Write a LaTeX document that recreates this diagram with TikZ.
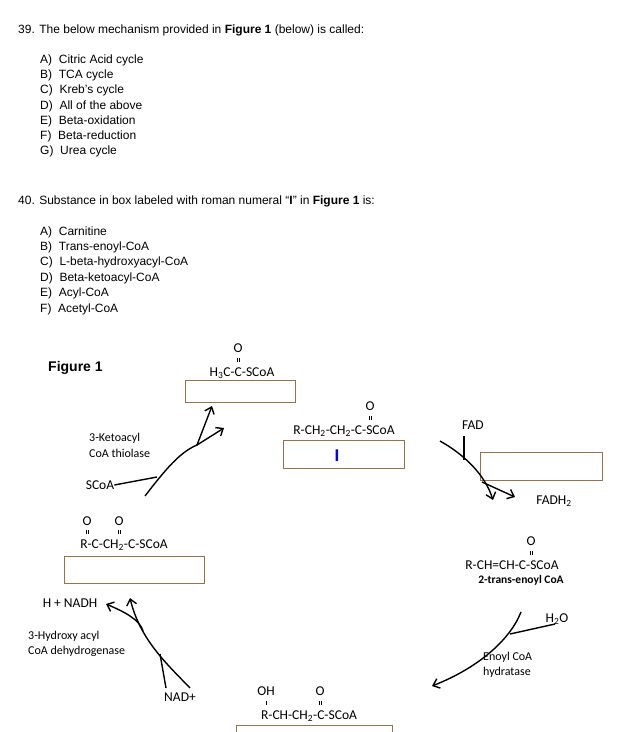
\documentclass[tikz,border=0pt]{standalone}
\usepackage{fontspec}
\setmainfont{Liberation Sans}
\newfontfamily\calfont{Carlito}
\usetikzlibrary{arrows.meta}
\definecolor{boxc}{HTML}{9A7045}
\newcommand{\dbl}{\tikz[baseline=0]{\draw[line width=0.6pt] (0,0)--(0,3.5pt) (1.6pt,0)--(1.6pt,3.5pt);}}
\newcommand{\sgl}{\tikz[baseline=0]{\draw[line width=0.6pt] (0,0)--(0,3.5pt);}}
\begin{document}
\begin{tikzpicture}[x=1pt,y=-1pt,
  q/.style={anchor=west,inner sep=0,font=\fontsize{12}{13}\selectfont},
  f/.style={inner sep=0,font=\calfont\fontsize{13.5}{14}\selectfont},
  fs/.style={anchor=west,inner sep=0,font=\calfont\fontsize{12}{13}\selectfont},
  bx/.style={draw=boxc,line width=1pt},
  arr/.style={line width=1.4pt,-{Straight Barb[length=6pt,width=10pt]}},
  ln/.style={line width=1.4pt}]
\useasboundingbox (0,0) rectangle (640,732);
\node[q] (q39) at (18,30) {39. The below mechanism provided in \textbf{Figure 1} (below) is called:};
\foreach \t [count=\i] in {A)\ \ Citric Acid cycle,B)\ \ TCA cycle,C)\ \ Kreb's cycle,D)\ \ All of the above,E)\ \ Beta-oxidation,F)\ \ Beta-reduction,G)\ \ Urea cycle}
  \node[q] (a\i) at (40,{60+15.3*(\i-1)}) {\t};
\node[q] (q40) at (18,201) {40. Substance in box labeled with roman numeral “\textbf{I}” in \textbf{Figure 1} is:};
\foreach \t [count=\i] in {A)\ \ Carnitine,B)\ \ Trans-enoyl-CoA,C)\ \ L-beta-hydroxyacyl-CoA,D)\ \ Beta-ketoacyl-CoA,E)\ \ Acyl-CoA,F)\ \ Acetyl-CoA}
  \node[q] (b\i) at (40,{232+15.4*(\i-1)}) {\t};
\node[q,font=\bfseries\fontsize{14}{15}\selectfont] (fig) at (48,368) {Figure 1};
% top molecule
\node[f] (o1) at (238,348) {O};
\node[inner sep=0] (eq1) at (238,360) {\dbl};
\node[f] (m1) at (242,373) {H\textsubscript{3}C-C-SCoA};
\draw[bx] (185,380) rectangle (295,402);
% right top molecule
\node[f] (o2) at (370,406) {O};
\node[inner sep=0] (eq2) at (370,418) {\dbl};
\node[f] (m2) at (344,431) {R-CH\textsubscript{2}-CH\textsubscript{2}-C-SCoA};
\draw[bx] (283,440) rectangle (404,468);
\node[inner sep=0,font=\bfseries\fontsize{17}{17}\selectfont\rmfamily,text=blue] (I) at (337,456) {I};
\node[f] (fad) at (473,425) {FAD};
\draw[bx] (480,452) rectangle (602,480);
\node[f] (fadh) at (554,501) {FADH\textsubscript{2}};
% enoyl
\node[f] (o3) at (531,541) {O};
\node[inner sep=0] (eq3) at (531,553) {\dbl};
\node[f] (m3) at (512,565) {R-CH=CH-C-SCoA};
\node[f,font=\calfont\bfseries\fontsize{11.5}{12}\selectfont] (en) at (521,580) {2-trans-enoyl CoA};
\node[f] (h2o) at (557,619) {H\textsubscript{2}O};
\node[fs] (eh1) at (483,657) {Enoyl CoA};
\node[fs] (eh2) at (483,672) {hydratase};
% bottom
\node[f] (oh) at (266,691) {OH};
\node[inner sep=0] (bar) at (266,703) {\sgl};
\node[f] (o4) at (320,691) {O};
\node[inner sep=0] (eq4) at (320,703) {\dbl};
\node[f] (m4) at (309,716) {R-CH-CH\textsubscript{2}-C-SCoA};
\draw[bx] (236,725) rectangle (392,745);
% left
\node[f] (nad) at (180,697) {NAD+};
\node[f] (nadh) at (70,603) {H + NADH};
\node[fs] (hd1) at (28,636) {3-Hydroxy acyl};
\node[fs] (hd2) at (28,651) {CoA dehydrogenase};
\node[f] (o5) at (87,521) {O};
\node[inner sep=0] (eq5) at (87,532) {\dbl};
\node[f] (o6) at (119,521) {O};
\node[inner sep=0] (eq6) at (119,532) {\dbl};
\node[f] (m5) at (124,545) {R-C-CH\textsubscript{2}-C-SCoA};
\draw[bx] (64,556) rectangle (204,583);
\node[fs] (k1) at (89,438) {3-Ketoacyl};
\node[fs] (k2) at (89,453) {CoA thiolase};
\node[f] (scoa) at (100,485) {SCoA};
% arrows
\coordinate (t0) at (145,496);
\coordinate (t1) at (197,445);
\draw[arr] (t0) .. controls (165,470) and (180,452) .. (t1) -- (224,428);
\draw[arr] (t1) -- (212,406);
\draw[ln] (scoa.east) -- (157,477);
\coordinate (d0) at (440,441);
\coordinate (d1) at (482,482);
\draw[arr] (d0) .. controls (465,455) and (485,475) .. (493,500);
\draw[ln] (464,436) -- (464,460);
\draw[arr] (d1) -- (515,497);
\draw[arr] (521,612) .. controls (510,640) and (478,668) .. (432,686);
\draw[ln] (555,624) -- (510,634);
\draw[arr] (190,688) .. controls (168,665) and (140,640) .. (130,598);
\draw[ln] (166,688) -- (160,654);
\draw[arr] (143,631) .. controls (140,620) and (125,612) .. (106,604);
\end{tikzpicture}
\end{document}
